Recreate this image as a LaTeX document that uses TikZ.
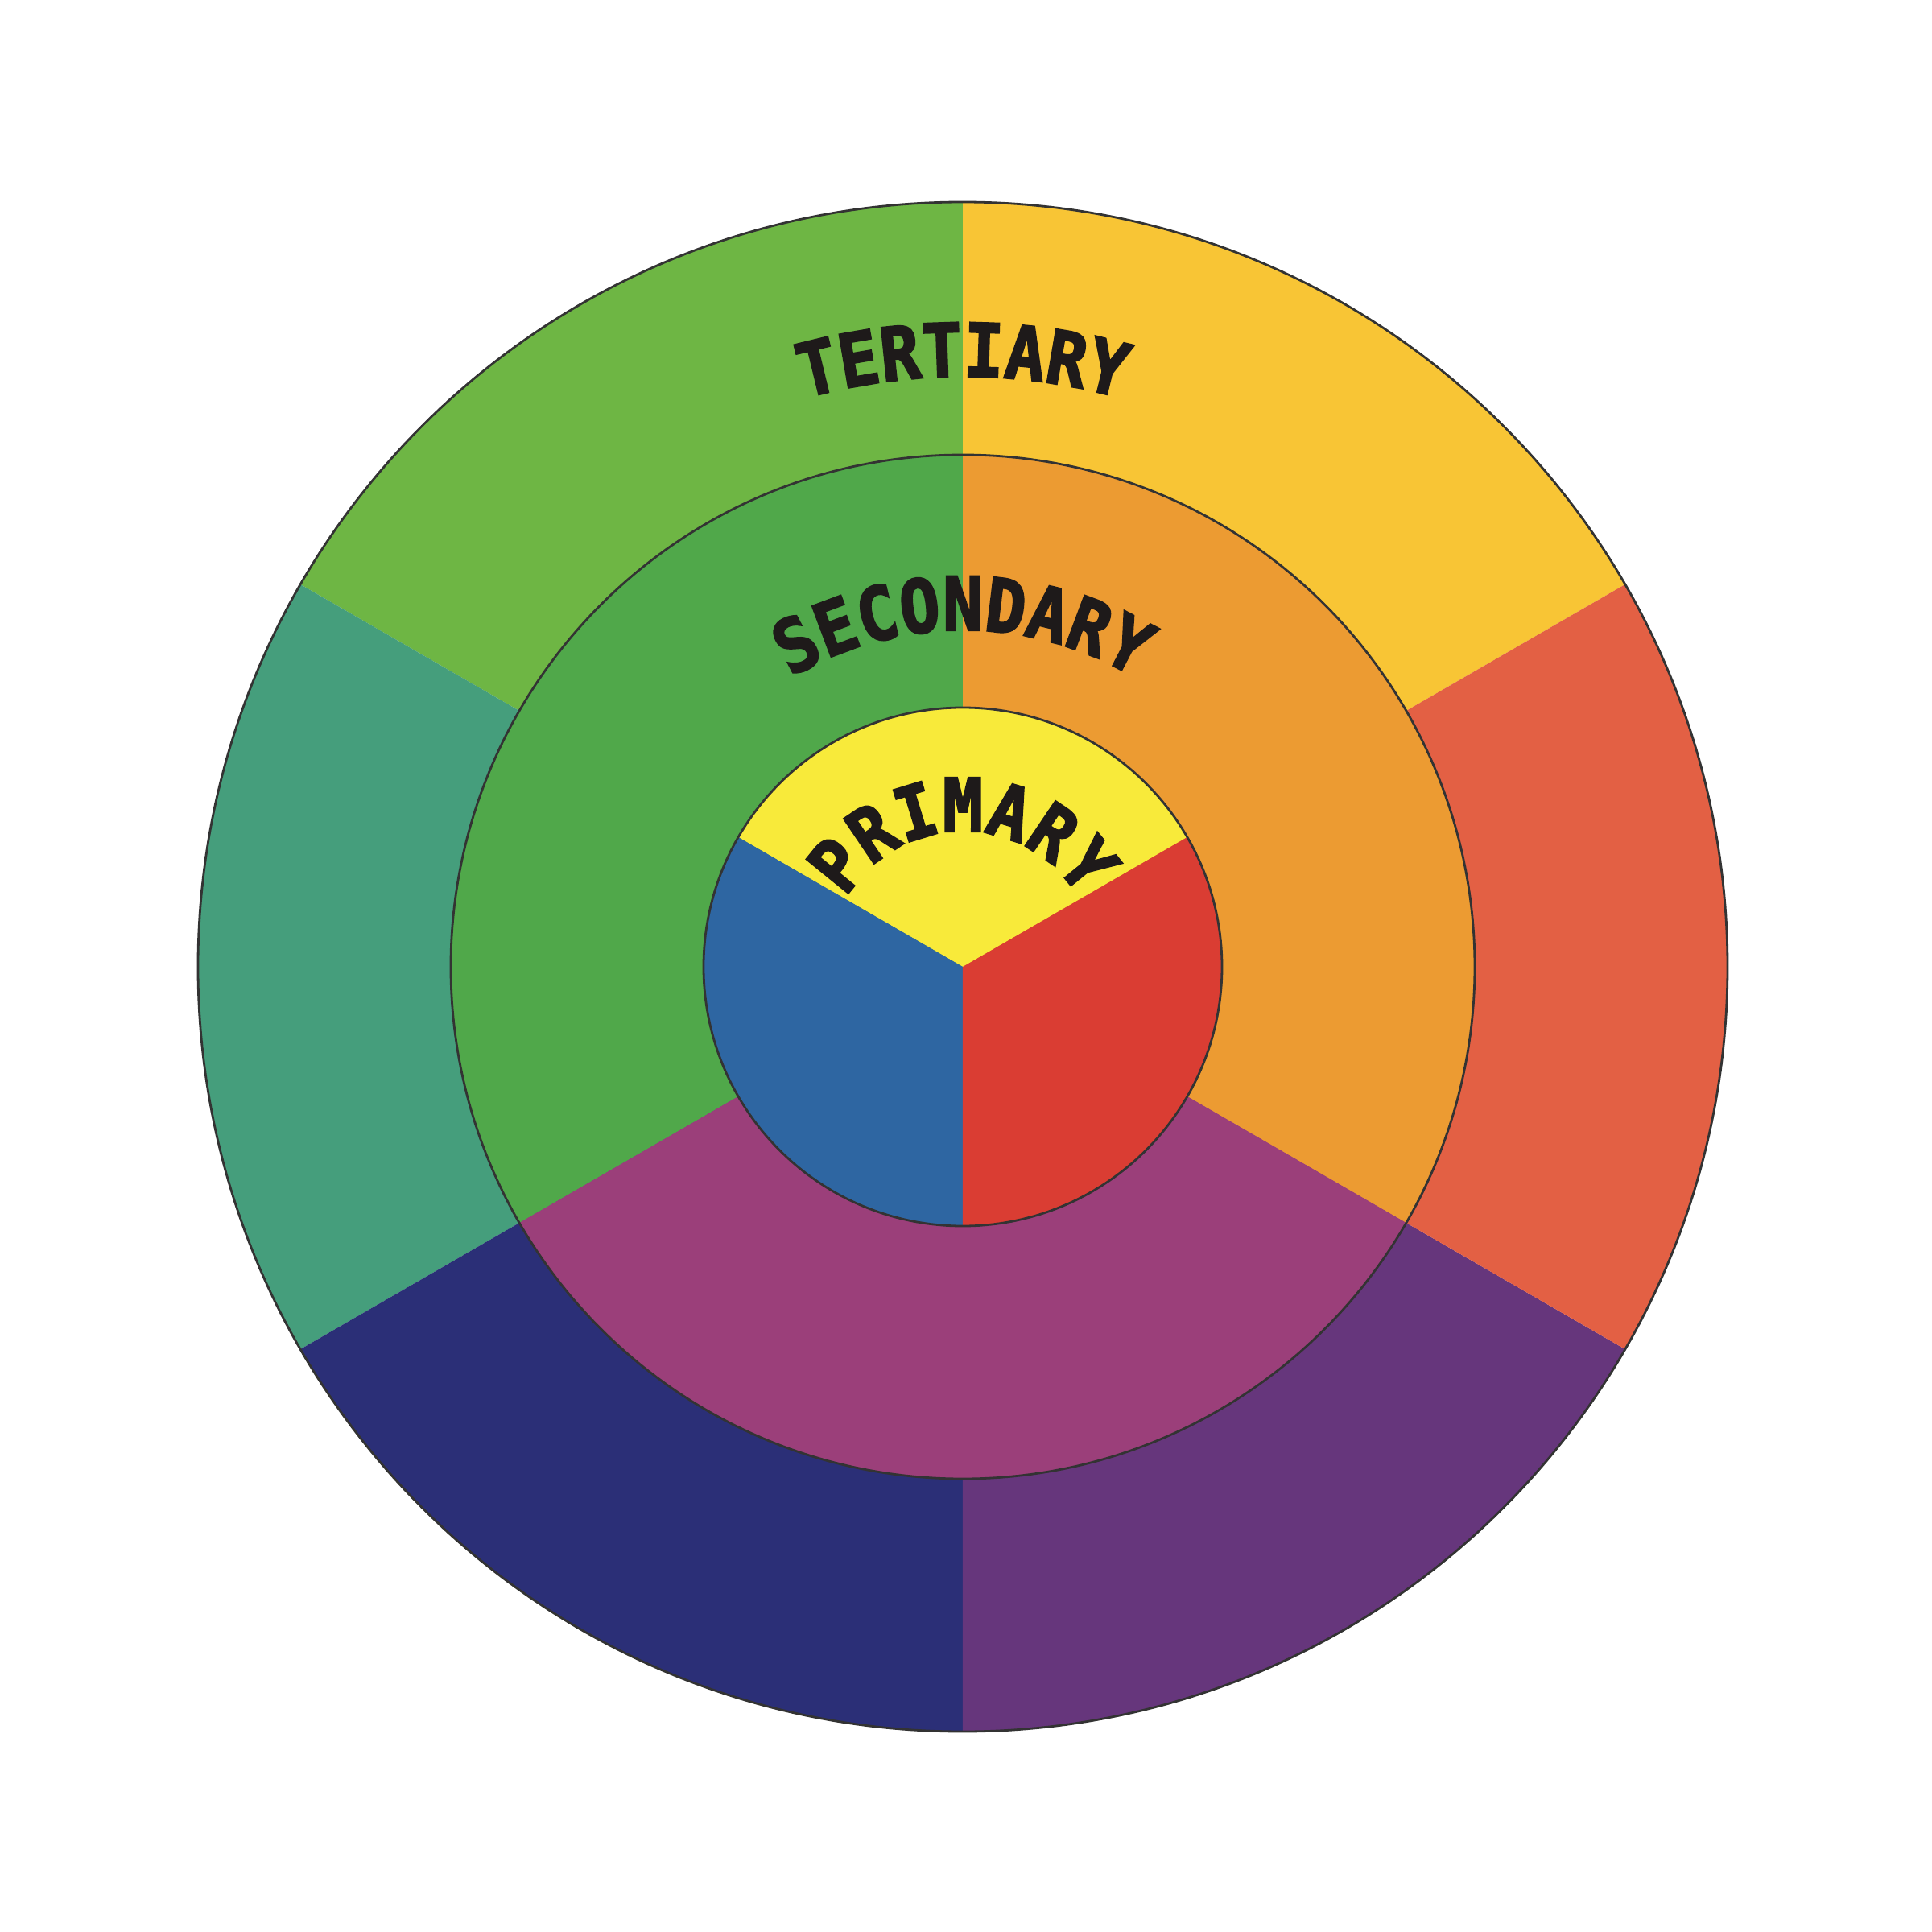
\documentclass[tikz,border=0pt]{standalone}
\usepackage{fontspec}
\usetikzlibrary{decorations.text}
\newfontfamily\wheelfont{DejaVu Sans Mono Bold}[FakeStretch=0.9,FakeBold=2.5]
\definecolor{oGreen}{HTML}{6EB644}
\definecolor{oYellow}{HTML}{F8C535}
\definecolor{oRed}{HTML}{E36044}
\definecolor{oPurple}{HTML}{66367C}
\definecolor{oNavy}{HTML}{2B2F77}
\definecolor{oTeal}{HTML}{459E7C}
\definecolor{mGreen}{HTML}{50A84A}
\definecolor{mOrange}{HTML}{EC9B32}
\definecolor{mMagenta}{HTML}{9B3F7A}
\definecolor{iYellow}{HTML}{F8EA3A}
\definecolor{iRed}{HTML}{DA3D33}
\definecolor{iBlue}{HTML}{2E66A2}
\definecolor{txt}{HTML}{1E1A1A}
\definecolor{rim}{HTML}{333333}
\begin{document}
\begin{tikzpicture}[
  rimline/.style={draw=rim, line width=0.7pt},
  curvedlabel/.style={decorate, decoration={text along path, text align=center,
    text color=txt}}
]
\useasboundingbox[fill=white] (-299pt,-299.75pt) rectangle (301pt,300.25pt);
\coordinate (C) at (0,0);
% outer ring wedges (R = 237.5pt)
\def\wedge#1#2#3#4{\fill[#1] (C) -- (#2:#4) arc[start angle=#2, end angle=#3, radius=#4] -- cycle;}
\wedge{oYellow}{30}{90}{237.5pt}
\wedge{oGreen}{90}{150}{237.5pt}
\wedge{oTeal}{150}{210}{237.5pt}
\wedge{oNavy}{210}{270}{237.5pt}
\wedge{oPurple}{270}{330}{237.5pt}
\wedge{oRed}{-30}{30}{237.5pt}
% middle ring wedges (159pt)
\wedge{mOrange}{-30}{90}{159pt}
\wedge{mGreen}{90}{210}{159pt}
\wedge{mMagenta}{210}{330}{159pt}
% inner wedges (80.5pt)
\wedge{iYellow}{30}{150}{80.5pt}
\wedge{iBlue}{150}{270}{80.5pt}
\wedge{iRed}{-90}{30}{80.5pt}
% outlines
\draw[rimline] (C) circle[radius=237.5pt];
\draw[rimline] (C) circle[radius=159pt];
\draw[rimline] (C) circle[radius=80.5pt];
% curved labels
\path[curvedlabel, decoration={text={|\wheelfont\fontsize{23pt}{23pt}\selectfont|TERTIARY}}]
  (150:183.25pt) arc[start angle=150, end angle=30, radius=183.25pt];
\path[curvedlabel, decoration={text={|\wheelfont\fontsize{23pt}{23pt}\selectfont|SECONDARY}}]
  (160:104.5pt) arc[start angle=160, end angle=20, radius=104.5pt];
\path[curvedlabel, decoration={text={|\wheelfont\fontsize{23pt}{23pt}\selectfont|PRIMARY}}]
  (175:42pt) arc[start angle=175, end angle=5, radius=42pt];
\end{tikzpicture}
\end{document}
